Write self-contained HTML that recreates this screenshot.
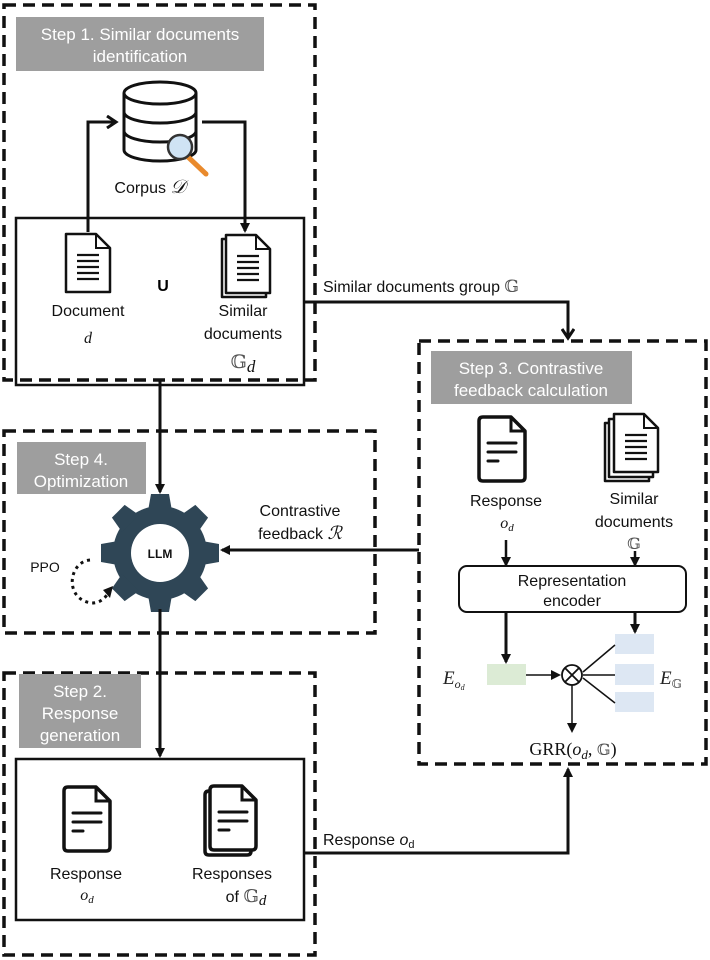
<!DOCTYPE html>
<html><head><meta charset="utf-8"><style>
body{margin:0;background:#fff;}
svg{display:block;font-family:"Liberation Sans",sans-serif;}
.lbl{fill:#fff;font-size:17px;text-anchor:middle;}
.t{font-size:16px;text-anchor:middle;fill:#111;}
.m{font-family:"Liberation Serif",serif;font-style:italic;}
.bb{font-family:"DejaVu Serif",serif;fill:#555;}
</style></head><body>
<svg width="710" height="960" viewBox="0 0 710 960" xmlns="http://www.w3.org/2000/svg">
<defs>
<marker id="ah" markerWidth="10" markerHeight="10" refX="8" refY="5" orient="auto" markerUnits="userSpaceOnUse"><path d="M0,0 L10,5 L0,10 Z" fill="#111"/></marker>
<marker id="ao" markerWidth="14" markerHeight="14" refX="11" refY="7" orient="auto" markerUnits="userSpaceOnUse"><path d="M2,1 L11,7 L2,13" fill="none" stroke="#111" stroke-width="3"/></marker>
<g id="doc"><path d="M0,0 H30 L44,14 V58 H0 Z" fill="#fff" stroke="#111" stroke-width="2.5" stroke-linejoin="round"/><path d="M30,0 V14 H44" fill="none" stroke="#111" stroke-width="2"/></g>
<g id="rdoc"><path d="M4,0 H32 L46,14 V60 Q46,64 42,64 H4 Q0,64 0,60 V4 Q0,0 4,0 Z" fill="#fff" stroke="#111" stroke-width="3.5" stroke-linejoin="round"/><path d="M32,0 V14 H46" fill="none" stroke="#111" stroke-width="3"/><path d="M9,26 H37 M9,35 H37 M9,44 H19" stroke="#111" stroke-width="3" stroke-linecap="round"/></g>
<g id="lines"><path d="M11,21 H33 M11,27 H33 M11,33 H33 M11,39 H33 M11,45 H33" stroke="#111" stroke-width="2.2"/></g>
</defs>

<!-- Step 1 -->
<rect x="4" y="5" width="311" height="375" fill="none" stroke="#111" stroke-width="3.5" stroke-dasharray="12,7"/>
<rect x="16" y="17" width="248" height="54" fill="#9e9e9e"/>
<text class="lbl" x="140" y="40">Step 1. Similar documents</text>
<text class="lbl" x="140" y="62">identification</text>
<g stroke="#111" stroke-width="3" fill="#fff">
<path d="M124,93 V150 A36,11 0 0 0 196,150 V93"/>
<path d="M124,112 A36,11 0 0 0 196,112 M124,131 A36,11 0 0 0 196,131" fill="none"/>
<ellipse cx="160" cy="93" rx="36" ry="11"/>
</g>
<line x1="187" y1="156" x2="206" y2="174" stroke="#e98a2d" stroke-width="5" stroke-linecap="round"/>
<circle cx="180" cy="147" r="12" fill="#cfe3f4" stroke="#333" stroke-width="2.5"/>
<text class="t" x="150" y="193">Corpus <tspan class="m" font-size="19">𝒟</tspan></text>
<rect x="16" y="218" width="288" height="167" fill="none" stroke="#111" stroke-width="2.5"/>
<path d="M88,232 V122 H116" fill="none" stroke="#111" stroke-width="3" marker-end="url(#ao)"/>
<path d="M202,122 H245 V231" fill="none" stroke="#111" stroke-width="3" marker-end="url(#ah)"/>
<g transform="translate(66,234)"><use href="#doc"/><use href="#lines"/></g>
<g transform="translate(222,239)"><use href="#doc"/></g>
<g transform="translate(226,235)"><use href="#doc"/><use href="#lines"/></g>
<text x="163" y="291" font-size="16" font-weight="bold" text-anchor="middle">U</text>
<text class="t" x="88" y="316">Document</text>
<text class="t m" x="88" y="343" font-size="26">d</text>
<text class="t" x="243" y="316">Similar</text>
<text class="t" x="243" y="339">documents</text>
<text class="t" x="243" y="368"><tspan class="bb" font-size="19">𝔾</tspan><tspan class="m" font-size="17" dy="4">d</tspan></text>

<path d="M304,302 H568 V338" fill="none" stroke="#111" stroke-width="3" marker-end="url(#ao)"/>
<text x="323" y="292" font-size="16" fill="#111">Similar documents group <tspan class="bb" font-size="17">𝔾</tspan></text>

<!-- Step 3 -->
<rect x="419" y="341" width="287" height="423" fill="none" stroke="#111" stroke-width="3.5" stroke-dasharray="12,7"/>
<rect x="431" y="351" width="201" height="53" fill="#9e9e9e"/>
<text class="lbl" x="531" y="374">Step 3. Contrastive</text>
<text class="lbl" x="531" y="396">feedback calculation</text>
<g transform="translate(479,417)"><use href="#rdoc"/></g>
<g transform="translate(605,423)"><use href="#doc"/></g>
<g transform="translate(609,419)"><use href="#doc"/></g>
<g transform="translate(614,414)"><use href="#doc"/><use href="#lines"/></g>
<text class="t" x="506" y="506">Response</text>
<text class="t m" x="507" y="528" font-size="16">o<tspan font-size="11" dy="3">d</tspan></text>
<text class="t" x="634" y="504">Similar</text>
<text class="t" x="634" y="527">documents</text>
<text class="t bb" x="634" y="549" font-size="16">𝔾</text>
<line x1="506" y1="540" x2="506" y2="565" stroke="#111" stroke-width="2.5" marker-end="url(#ah)"/>
<line x1="635" y1="551" x2="635" y2="565" stroke="#111" stroke-width="2.5" marker-end="url(#ah)"/>
<rect x="459" y="566" width="227" height="46" rx="8" fill="#fff" stroke="#111" stroke-width="2"/>
<text class="t" x="572" y="586">Representation</text>
<text class="t" x="572" y="606">encoder</text>
<line x1="506" y1="612" x2="506" y2="662" stroke="#111" stroke-width="3" marker-end="url(#ah)"/>
<line x1="635" y1="612" x2="635" y2="632" stroke="#111" stroke-width="3" marker-end="url(#ah)"/>
<rect x="487" y="664" width="39" height="21" fill="#dcebd5"/>
<rect x="615" y="634" width="39" height="20" fill="#dde7f3"/>
<rect x="615" y="664" width="39" height="21" fill="#dde7f3"/>
<rect x="615" y="692" width="39" height="20" fill="#dde7f3"/>
<text class="m" x="443" y="684" font-size="19" fill="#222">E<tspan font-size="12" dy="4">o</tspan><tspan font-size="8" dy="2">d</tspan></text>
<text class="m" x="660" y="684" font-size="19" fill="#222">E<tspan class="bb" font-size="12" dy="4" font-style="normal">𝔾</tspan></text>
<line x1="526" y1="675" x2="559" y2="675" stroke="#111" stroke-width="1.5" marker-end="url(#ah)"/>
<line x1="615" y1="645" x2="583" y2="672" stroke="#111" stroke-width="1.5"/>
<line x1="615" y1="675" x2="583" y2="675" stroke="#111" stroke-width="1.5"/>
<line x1="615" y1="703" x2="583" y2="678" stroke="#111" stroke-width="1.5"/>
<circle cx="572" cy="675" r="10" fill="#fff" stroke="#111" stroke-width="1.8"/>
<path d="M565,668 L579,682 M579,668 L565,682" stroke="#111" stroke-width="1.8"/>
<line x1="572" y1="685" x2="572" y2="731" stroke="#111" stroke-width="1.5" marker-end="url(#ah)"/>
<text x="573" y="755" font-family="Liberation Serif,serif" font-size="18" text-anchor="middle" fill="#111">GRR(<tspan font-style="italic">o<tspan font-size="13" dy="4">d</tspan></tspan><tspan dy="-4">, </tspan><tspan class="bb" font-size="16">𝔾</tspan>)</text>

<!-- Step 4 -->
<rect x="4" y="431" width="371" height="202" fill="none" stroke="#111" stroke-width="3.5" stroke-dasharray="12,7"/>
<rect x="17" y="442" width="129" height="52" fill="#9e9e9e"/>
<text class="lbl" x="81" y="465">Step 4.</text>
<text class="lbl" x="81" y="487">Optimization</text>
<line x1="160" y1="380" x2="160" y2="492" stroke="#111" stroke-width="3" marker-end="url(#ah)"/>
<g transform="translate(160,553)" fill="#2f4656">
<circle r="47"/>
<g id="tooth"><path d="M-12,-42 L-9,-59 H9 L12,-42 Z"/></g>
<use href="#tooth" transform="rotate(45)"/><use href="#tooth" transform="rotate(90)"/><use href="#tooth" transform="rotate(135)"/>
<use href="#tooth" transform="rotate(180)"/><use href="#tooth" transform="rotate(225)"/><use href="#tooth" transform="rotate(270)"/><use href="#tooth" transform="rotate(315)"/>
<circle r="29" fill="#fff"/>
</g>
<text x="160" y="558" font-size="12" font-weight="bold" text-anchor="middle" fill="#111">LLM</text>
<text x="300" y="516" font-size="16" text-anchor="middle" fill="#111">Contrastive</text>
<text x="300" y="539" font-size="16" text-anchor="middle" fill="#111">feedback <tspan class="m" font-size="18">ℛ</tspan></text>
<line x1="419" y1="550" x2="222" y2="550" stroke="#111" stroke-width="3" marker-end="url(#ah)"/>
<text x="45" y="572" font-size="14" text-anchor="middle" fill="#111">PPO</text>
<path d="M90,560 C68,562 64,600 92,603 C100,603 106,598 110,590" fill="none" stroke="#111" stroke-width="3" stroke-dasharray="3,4"/>
<path d="M103,590 L113,586 L110,598 Z" fill="#111"/>
<line x1="160" y1="609" x2="160" y2="756" stroke="#111" stroke-width="3" marker-end="url(#ah)"/>

<!-- Step 2 -->
<rect x="4" y="673" width="311" height="282" fill="none" stroke="#111" stroke-width="3.5" stroke-dasharray="12,7"/>
<rect x="19" y="674" width="122" height="74" fill="#9e9e9e"/>
<text class="lbl" x="80" y="697">Step 2.</text>
<text class="lbl" x="80" y="719">Response</text>
<text class="lbl" x="80" y="741">generation</text>
<rect x="16" y="759" width="288" height="161" fill="none" stroke="#111" stroke-width="2.5"/>
<g transform="translate(64,787)"><use href="#rdoc"/></g>
<g transform="translate(205,791)"><path d="M4,0 H32 L46,14 V60 Q46,64 42,64 H4 Q0,64 0,60 V4 Q0,0 4,0 Z" fill="#fff" stroke="#111" stroke-width="3.5"/></g>
<g transform="translate(210,786)"><use href="#rdoc"/></g>
<text class="t" x="86" y="879">Response</text>
<text class="t m" x="87" y="900" font-size="16">o<tspan font-size="11" dy="3">d</tspan></text>
<text class="t" x="232" y="879">Responses</text>
<text class="t" x="246" y="902">of <tspan class="bb" font-size="18">𝔾</tspan><tspan class="m" font-size="15" dy="3">d</tspan></text>

<path d="M304,853 H568 V769" fill="none" stroke="#111" stroke-width="3" marker-end="url(#ah)"/>
<text x="323" y="845" font-size="16" fill="#111">Response <tspan font-style="italic">o</tspan><tspan font-size="11" dy="3">d</tspan></text>
</svg>
</body></html>
